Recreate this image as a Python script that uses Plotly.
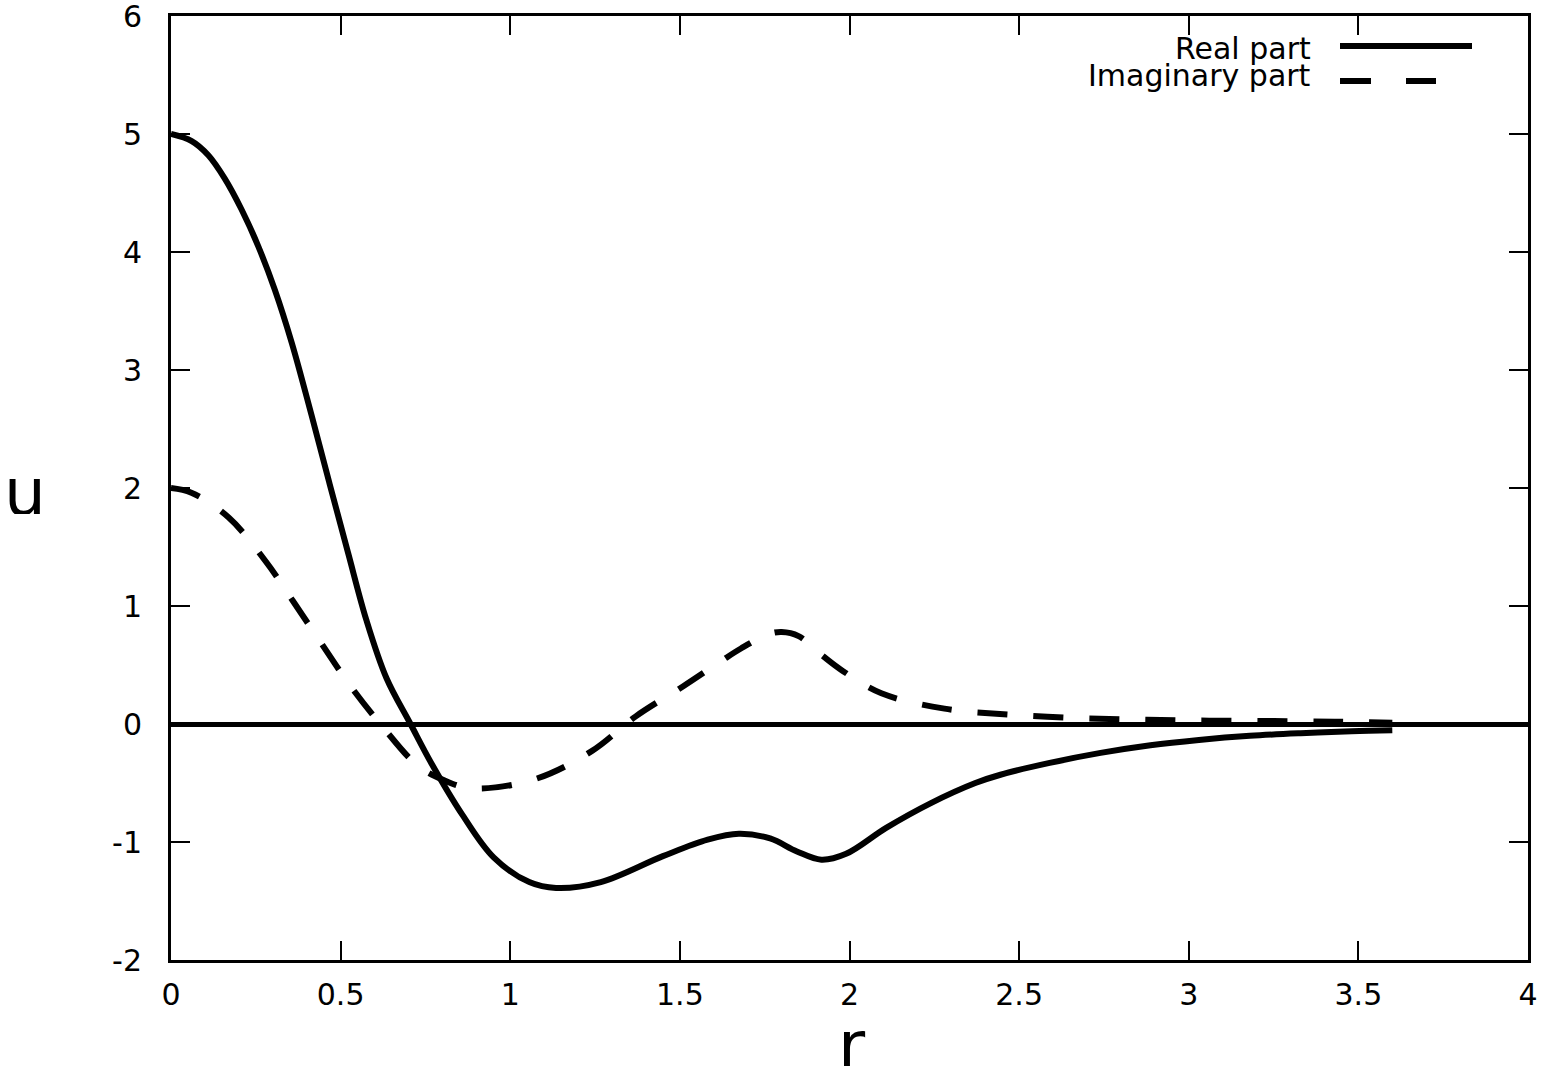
import plotly.graph_objects as go

# values
r_real = [0, 0.061, 0.11, 0.159, 0.208, 0.257, 0.306, 0.356, 0.414, 0.468,
          0.522, 0.576, 0.635, 0.706, 0.767, 0.859, 0.951, 1.056, 1.135, 1.267,
          1.45, 1.582, 1.674, 1.766, 1.845, 1.917, 1.99, 2.108, 2.24, 2.371,
          2.445, 2.59, 2.74, 2.887, 3.03, 3.18, 3.33, 3.48, 3.60]
u_real = [5.0, 4.94, 4.82, 4.62, 4.36, 4.05, 3.68, 3.23, 2.62, 2.03,
          1.45, 0.88, 0.39, 0.0, -0.33, -0.77, -1.13, -1.34, -1.39, -1.34,
          -1.12, -0.98, -0.93, -0.97, -1.08, -1.15, -1.10, -0.88, -0.67, -0.50,
          -0.43, -0.33, -0.245, -0.18, -0.135, -0.10, -0.078, -0.062, -0.054]

r_imag = [0, 0.06, 0.17, 0.28, 0.36, 0.444, 0.527, 0.62, 0.726, 0.80, 0.885,
          1.07, 1.24, 1.37, 1.51, 1.62, 1.68, 1.76, 1.80, 1.85, 1.92, 1.98,
          2.094, 2.28, 2.47, 2.67, 2.866, 3.06, 3.25, 3.43, 3.60]
u_imag = [2.0, 1.96, 1.75, 1.375, 1.04, 0.68, 0.33, -0.01, -0.35, -0.47, -0.545,
          -0.47, -0.23, 0.065, 0.32, 0.53, 0.64, 0.76, 0.78, 0.745, 0.58, 0.45,
          0.26, 0.13, 0.08, 0.05, 0.037, 0.028, 0.025, 0.02, 0.01]

x_ticks = [0, 0.5, 1, 1.5, 2, 2.5, 3, 3.5, 4]
x_ticktext = ["0", "0.5", "1", "1.5", "2", "2.5", "3", "3.5", "4"]
y_ticks = [-2, -1, 0, 1, 2, 3, 4, 5, 6]
y_ticktext = ["-2", "-1", "0", "1", "2", "3", "4", "5", "6"]

FONT = "DejaVu Sans, Liberation Sans, sans-serif"
W, H = 1550, 1069

# plot area in page pixels
X0, X1, Y0, Y1 = 171, 1528, 16, 960


def px_x(x):
    return (x - X0) / (X1 - X0)


def px_y(y):
    return (Y1 - y) / (Y1 - Y0)


fig = go.Figure()
fig.add_trace(go.Scatter(x=r_real, y=u_real, mode="lines", name="Real part",
                         line=dict(color="black", width=6, shape="spline")))
fig.add_trace(go.Scatter(x=r_imag, y=u_imag, mode="lines", name="Imaginary part",
                         line=dict(color="black", width=6, shape="spline",
                                   dash="30px,26px")))

axis_common = dict(showline=True, linecolor="black", linewidth=3, mirror="ticks",
                   ticks="inside", ticklen=19, tickwidth=1.5, tickcolor="black",
                   showgrid=False, automargin=False, ticklabeloverflow="allow",
                   tickfont=dict(family=FONT, size=30, color="black"))

fig.update_xaxes(range=[0, 4], tickvals=x_ticks, ticktext=x_ticktext,
                 zeroline=False, ticklabelstandoff=6, **axis_common)
fig.update_yaxes(range=[-2, 6], tickvals=y_ticks, ticktext=y_ticktext,
                 zeroline=True, zerolinecolor="black", zerolinewidth=5,
                 ticklabelstandoff=20, **axis_common)

# legend drawn gnuplot-style: label text on the left, sample line on the right
legend_rows = [("Real part", 49, [(1340, 1472)], 46),
               ("Imaginary part", 75, [(1340, 1371), (1406, 1436)], 81)]
for label, y_text, segments, y_line in legend_rows:
    fig.add_annotation(x=px_x(1313), y=px_y(y_text), xref="paper", yref="paper",
                       text=label, showarrow=False, xanchor="right", yanchor="middle",
                       font=dict(family=FONT, size=30, color="black"))
    for a, b in segments:
        fig.add_shape(type="line", xref="paper", yref="paper",
                      x0=px_x(a), x1=px_x(b), y0=px_y(y_line), y1=px_y(y_line),
                      line=dict(color="black", width=6))

# axis titles
fig.add_annotation(x=px_x(25), y=px_y(492), xref="paper", yref="paper",
                   text="u", showarrow=False, xanchor="center", yanchor="middle",
                   height=44, valign="middle",
                   font=dict(family=FONT, size=66, color="black"))
fig.add_annotation(x=px_x(852), y=px_y(1045), xref="paper", yref="paper",
                   text="r", showarrow=False, xanchor="center", yanchor="middle",
                   height=42, valign="middle",
                   font=dict(family=FONT, size=66, color="black"))

fig.update_layout(width=W, height=H, showlegend=False,
                  margin=dict(l=X0, r=W - X1, t=Y0, b=H - Y1),
                  plot_bgcolor="white", paper_bgcolor="white")

fig.write_html("out.html", config={"displayModeBar": False},
               post_script="document.body.style.margin='0';")
